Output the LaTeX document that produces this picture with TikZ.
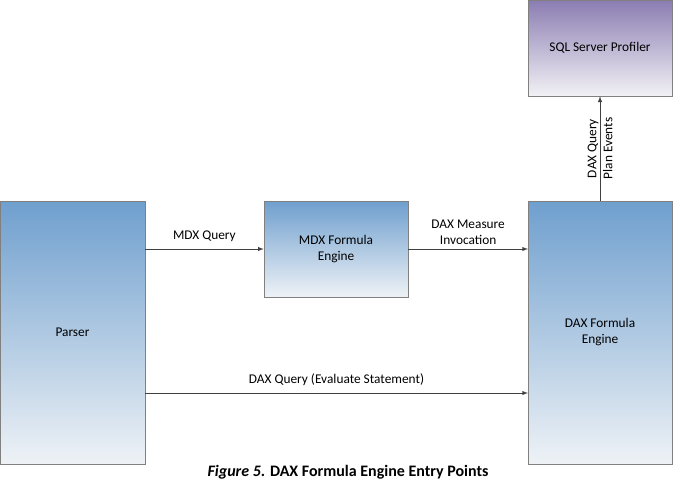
\documentclass[tikz,border=0pt]{standalone}
\usepackage{fontspec}
\setmainfont{Carlito}
\usetikzlibrary{positioning}
\definecolor{boxline}{HTML}{808080}
\definecolor{bluetop}{HTML}{6F9FCE}
\definecolor{bluebot}{HTML}{EEF2F6}
\definecolor{purptop}{HTML}{8B7DB2}
\definecolor{purpbot}{HTML}{F2F1F5}
\definecolor{arrowcol}{HTML}{404040}
\tikzset{
  block/.style = {draw=boxline, inner sep=0pt, top color=bluetop, bottom color=bluebot, font=\fontsize{10}{12}\selectfont, align=center},
  flow/.style = {draw=arrowcol, -latex, line width=0.5pt},
  lbl/.style = {font=\fontsize{10}{12}\selectfont, align=center, text=black}
}
\begin{document}
\begin{tikzpicture}[x=0.75pt, y=-0.75pt]
\useasboundingbox (0,0) rectangle (675,486);
% boxes
\node[block, minimum width=108.75pt, minimum height=197.25pt] (parser) at (72.5,332.5) {Parser};
\node[block, minimum width=108pt, minimum height=72pt] (mdx) at (336,249) {MDX Formula\\Engine};
\node[block, minimum width=108pt, minimum height=197.25pt] (dax) at (600,332.5) {DAX Formula\\Engine};
\node[block, top color=purptop, bottom color=purpbot, minimum width=108pt, minimum height=72pt] (sql) at (600,48) {SQL Server Profiler};
% connectors
\coordinate (p1) at (145,249);
\coordinate (p2) at (145,393);
\coordinate (d2) at (528,393);
\coordinate (d1) at (528,249);
\draw[flow] (p1) -- (mdx.west) node[lbl, midway, above=2pt] {MDX Query};
\draw[flow] (mdx.east) -- (d1) node[lbl, midway, above=0pt] {DAX Measure\\Invocation};
\draw[flow] (p2) -- (d2) node[lbl, midway, above=2pt] {DAX Query (Evaluate Statement)};
\draw[flow] (dax.north) -- (sql.south) node[lbl, midway, rotate=90] {DAX Query\\Plan Events};
% caption
\node[font=\fontsize{12}{14}\selectfont\bfseries] (cap) at (348,472) {\textit{Figure 5}. DAX Formula Engine Entry Points};
\end{tikzpicture}
\end{document}
